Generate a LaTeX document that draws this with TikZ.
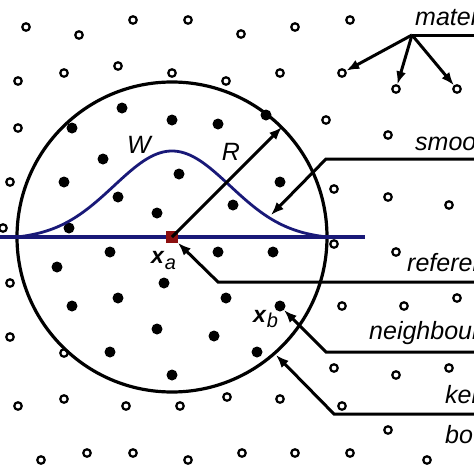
\documentclass[tikz,border=0pt]{standalone}
\usepackage{fontspec}
\setmainfont{Liberation Sans}
\usetikzlibrary{arrows.meta}
\definecolor{kernelblue}{RGB}{25,25,120}
\definecolor{refred}{RGB}{140,15,15}
\tikzset{
  outer/.style={circle,draw,line width=2.2pt,inner sep=0pt,minimum size=7.5pt},
  inner/.style={circle,fill,inner sep=0pt,minimum size=11pt},
  lead/.style={line width=3pt},
  tip/.style={-{Latex[length=13pt,width=10pt]}},
  lbl/.style={font=\fontsize{25}{30}\selectfont\itshape,inner sep=0pt}
}

\begin{document}
\begin{tikzpicture}[x=1pt,y=-1pt]
\useasboundingbox (0,0) rectangle (474,474);
% material points outside the support
\foreach \px/\py [count=\i] in {26/27,79/35,133/20,188/20,64/73,118/66,172/73,226/81,
    18/81,18/128,10/182,3/228,241/34,295/27,350/20,280/73,326/120,388/135,
    334/189,388/197,449/205,10/283,10/337,64/353,18/406,64/399,126/406,180/406,
    227/397,41/460,87/453,133/453,188/460,242/453,295/453,350/453,427/460,
    334/244,396/252,457/298,342/306,404/306,334/368,396/375,449/368,280/399,
    342/406,388/430}
  \node[outer] (o\i) at (\px,\py) {};
% neighbours inside the support
\foreach \px/\py [count=\i] in {122/108,72/128,172/120,218/124,103/159,64/182,
    179/174,118/197,157/213,69/228,233/205,266/115,280/182,110/252,57/267,
    218/252,164/283,118/298,72/306,226/298,157/329,214/336,110/352,172/375,
    273/252,257/352}
  \node[inner] (f\i) at (\px,\py) {};
\node[outer] (m1) at (342,73) {};
\node[outer] (m2) at (396,89) {};
\node[outer] (m3) at (457,89) {};
\node[inner] (xb) at (280,306) {};

% support domain and kernel
\coordinate (c) at (172,237);
\draw[line width=3.2pt] (c) circle[radius=155];
\draw[kernelblue,line width=3.2pt] (0,237) -- (365,237);
\draw[kernelblue,line width=2.8pt] plot[domain=-155:155,samples=120]
  ({172+\x},{237-86*(exp(-0.5*(\x/58)^2)-0.028)/0.972});
\node[fill=refred,inner sep=0pt,minimum size=11.5pt] (xa) at (c) {};
\coordinate (rend) at (282,127);
\draw[lead,tip] (xa.center) -- (rend);
\node[lbl] (w) at (139,145) {W};
\node[lbl] (r) at (231,152) {R};
\node[font=\fontsize{23}{23}\selectfont,inner sep=0pt,anchor=base west] (xal) at (151,263)
  {\textbf{\textit{x}}\raisebox{-6pt}{\fontsize{20}{20}\selectfont\itshape a}};
\node[font=\fontsize{23}{23}\selectfont,inner sep=0pt,anchor=base west] (xbl) at (253,322)
  {\textbf{\textit{x}}\raisebox{-5pt}{\fontsize{20}{20}\selectfont\itshape b}};

% leaders
\coordinate (mj) at (412,35);
\draw[lead] (mj) -- (486,35);
\foreach \t in {m1,m2,m3}
  \draw[lead,tip] (mj) -- (\t);
\coordinate (sj) at (326,159);
\coordinate (sw) at (271,215);
\draw[lead,tip] (486,159) -- (sj) -- (sw);
\coordinate (rj) at (218,282);
\draw[lead,tip] (486,282) -- (rj) -- (xa);
\coordinate (nj) at (326,352);
\draw[lead,tip] (486,352) -- (nj) -- (xb);
\coordinate (kj) at (334,414);
\coordinate (kb) at (276,355);
\draw[lead,tip] (486,414) -- (kj) -- (kb);

\node[lbl,anchor=base west] (lm) at (415,25) {material points};
\node[lbl,anchor=base west] (ls) at (415,150) {smoothing function};
\node[lbl,anchor=base west] (lr) at (407,271) {reference particle};
\node[lbl,anchor=base west] (ln) at (369,339) {neighbouring particle};
\node[lbl,anchor=base west] (lk) at (445,403) {kernel};
\node[lbl,anchor=base west] (lb) at (445,443) {boundary};
\end{tikzpicture}
\end{document}
